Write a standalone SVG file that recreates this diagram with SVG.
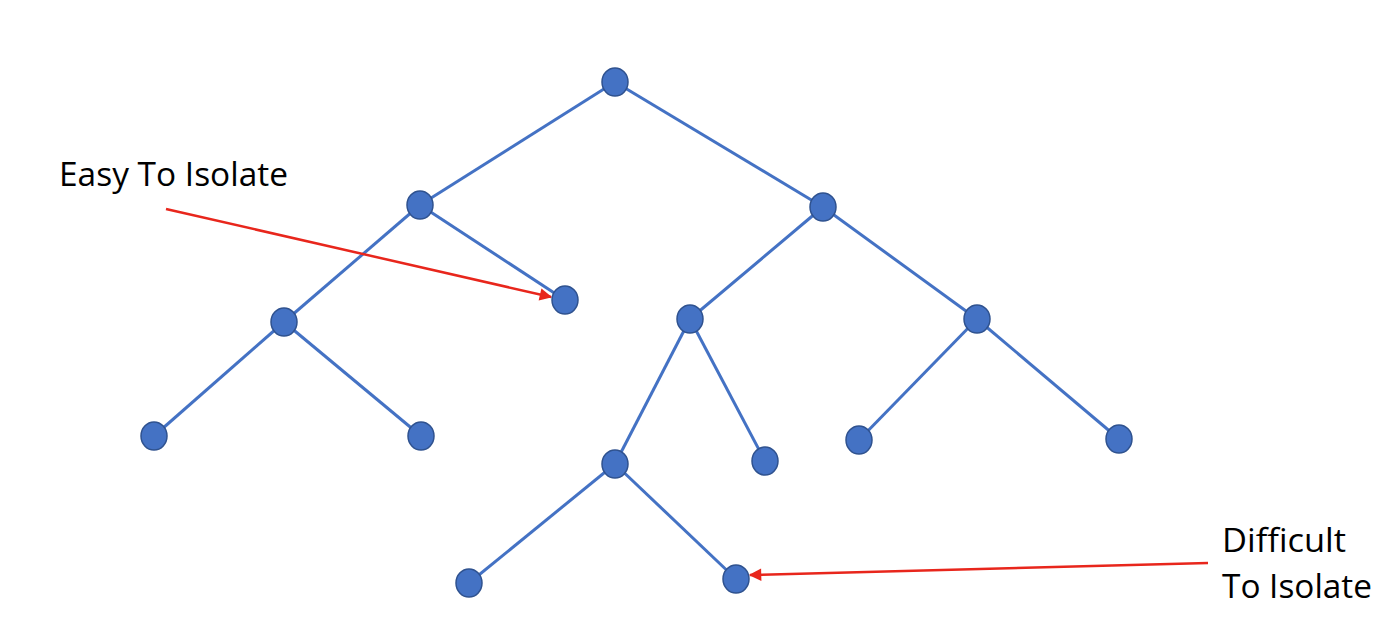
<svg xmlns="http://www.w3.org/2000/svg" width="1400" height="639" viewBox="0 0 1400 639">
<defs>
<style>
.edge{stroke:#4472C4;stroke-width:3;fill:none}
.node{fill:#4472C4;stroke:#2F528F;stroke-width:1.5}
.ann{stroke:#E8261C;stroke-width:2.5;fill:none}
.lbl{font-family:"Open Sans","Liberation Sans",Arial,sans-serif;font-size:33px;fill:#000}
</style>
<marker id="ah" viewBox="0 0 10 10" refX="9" refY="5" markerWidth="6" markerHeight="5" orient="auto" markerUnits="strokeWidth">
<path d="M0,0 L10,5 L0,10 z" fill="#E8261C"/>
</marker>
</defs>
<rect width="1400" height="639" fill="#fff"/>
<g id="connectors">
<line class="edge" x1="615" y1="82" x2="420" y2="205"/>
<line class="edge" x1="615" y1="82" x2="823" y2="207"/>
<line class="edge" x1="420" y1="205" x2="565" y2="300"/>
<line class="edge" x1="420" y1="205" x2="284" y2="322"/>
<line class="edge" x1="284" y1="322" x2="154" y2="436"/>
<line class="edge" x1="284" y1="322" x2="421" y2="436"/>
<line class="edge" x1="823" y1="207" x2="690" y2="319"/>
<line class="edge" x1="823" y1="207" x2="977" y2="319"/>
<line class="edge" x1="690" y1="319" x2="615" y2="464"/>
<line class="edge" x1="690" y1="319" x2="765" y2="461"/>
<line class="edge" x1="977" y1="319" x2="859" y2="440"/>
<line class="edge" x1="977" y1="319" x2="1119" y2="439"/>
<line class="edge" x1="615" y1="464" x2="469" y2="583"/>
<line class="edge" x1="615" y1="464" x2="736" y2="579"/>
<line class="ann" x1="166" y1="209" x2="551" y2="297" marker-end="url(#ah)"/>
<line class="ann" x1="1208" y1="563" x2="750" y2="575" marker-end="url(#ah)"/>
</g>
<g id="n1"><ellipse class="node" cx="615" cy="82" rx="13" ry="14"/></g>
<g id="n2"><ellipse class="node" cx="420" cy="205" rx="13" ry="14"/></g>
<g id="n3"><ellipse class="node" cx="823" cy="207" rx="13" ry="14"/></g>
<g id="n4"><ellipse class="node" cx="565" cy="300" rx="13" ry="14"/></g>
<g id="n5"><ellipse class="node" cx="284" cy="322" rx="13" ry="14"/></g>
<g id="n6"><ellipse class="node" cx="690" cy="319" rx="13" ry="14"/></g>
<g id="n7"><ellipse class="node" cx="977" cy="319" rx="13" ry="14"/></g>
<g id="n8"><ellipse class="node" cx="154" cy="436" rx="13" ry="14"/></g>
<g id="n9"><ellipse class="node" cx="421" cy="436" rx="13" ry="14"/></g>
<g id="n10"><ellipse class="node" cx="615" cy="464" rx="13" ry="14"/></g>
<g id="n11"><ellipse class="node" cx="765" cy="461" rx="13" ry="14"/></g>
<g id="n12"><ellipse class="node" cx="859" cy="440" rx="13" ry="14"/></g>
<g id="n13"><ellipse class="node" cx="1119" cy="439" rx="13" ry="14"/></g>
<g id="n14"><ellipse class="node" cx="469" cy="583" rx="13" ry="14"/></g>
<g id="n15"><ellipse class="node" cx="736" cy="579" rx="13" ry="14"/></g>
<g id="label-easy"><text class="lbl" x="59" y="186" textLength="229" lengthAdjust="spacingAndGlyphs">Easy To Isolate</text></g>
<g id="label-difficult"><text class="lbl" x="1222" y="552" textLength="124" lengthAdjust="spacingAndGlyphs">Difficult</text><text class="lbl" x="1222" y="598" textLength="150" lengthAdjust="spacingAndGlyphs">To Isolate</text></g>
</svg>
